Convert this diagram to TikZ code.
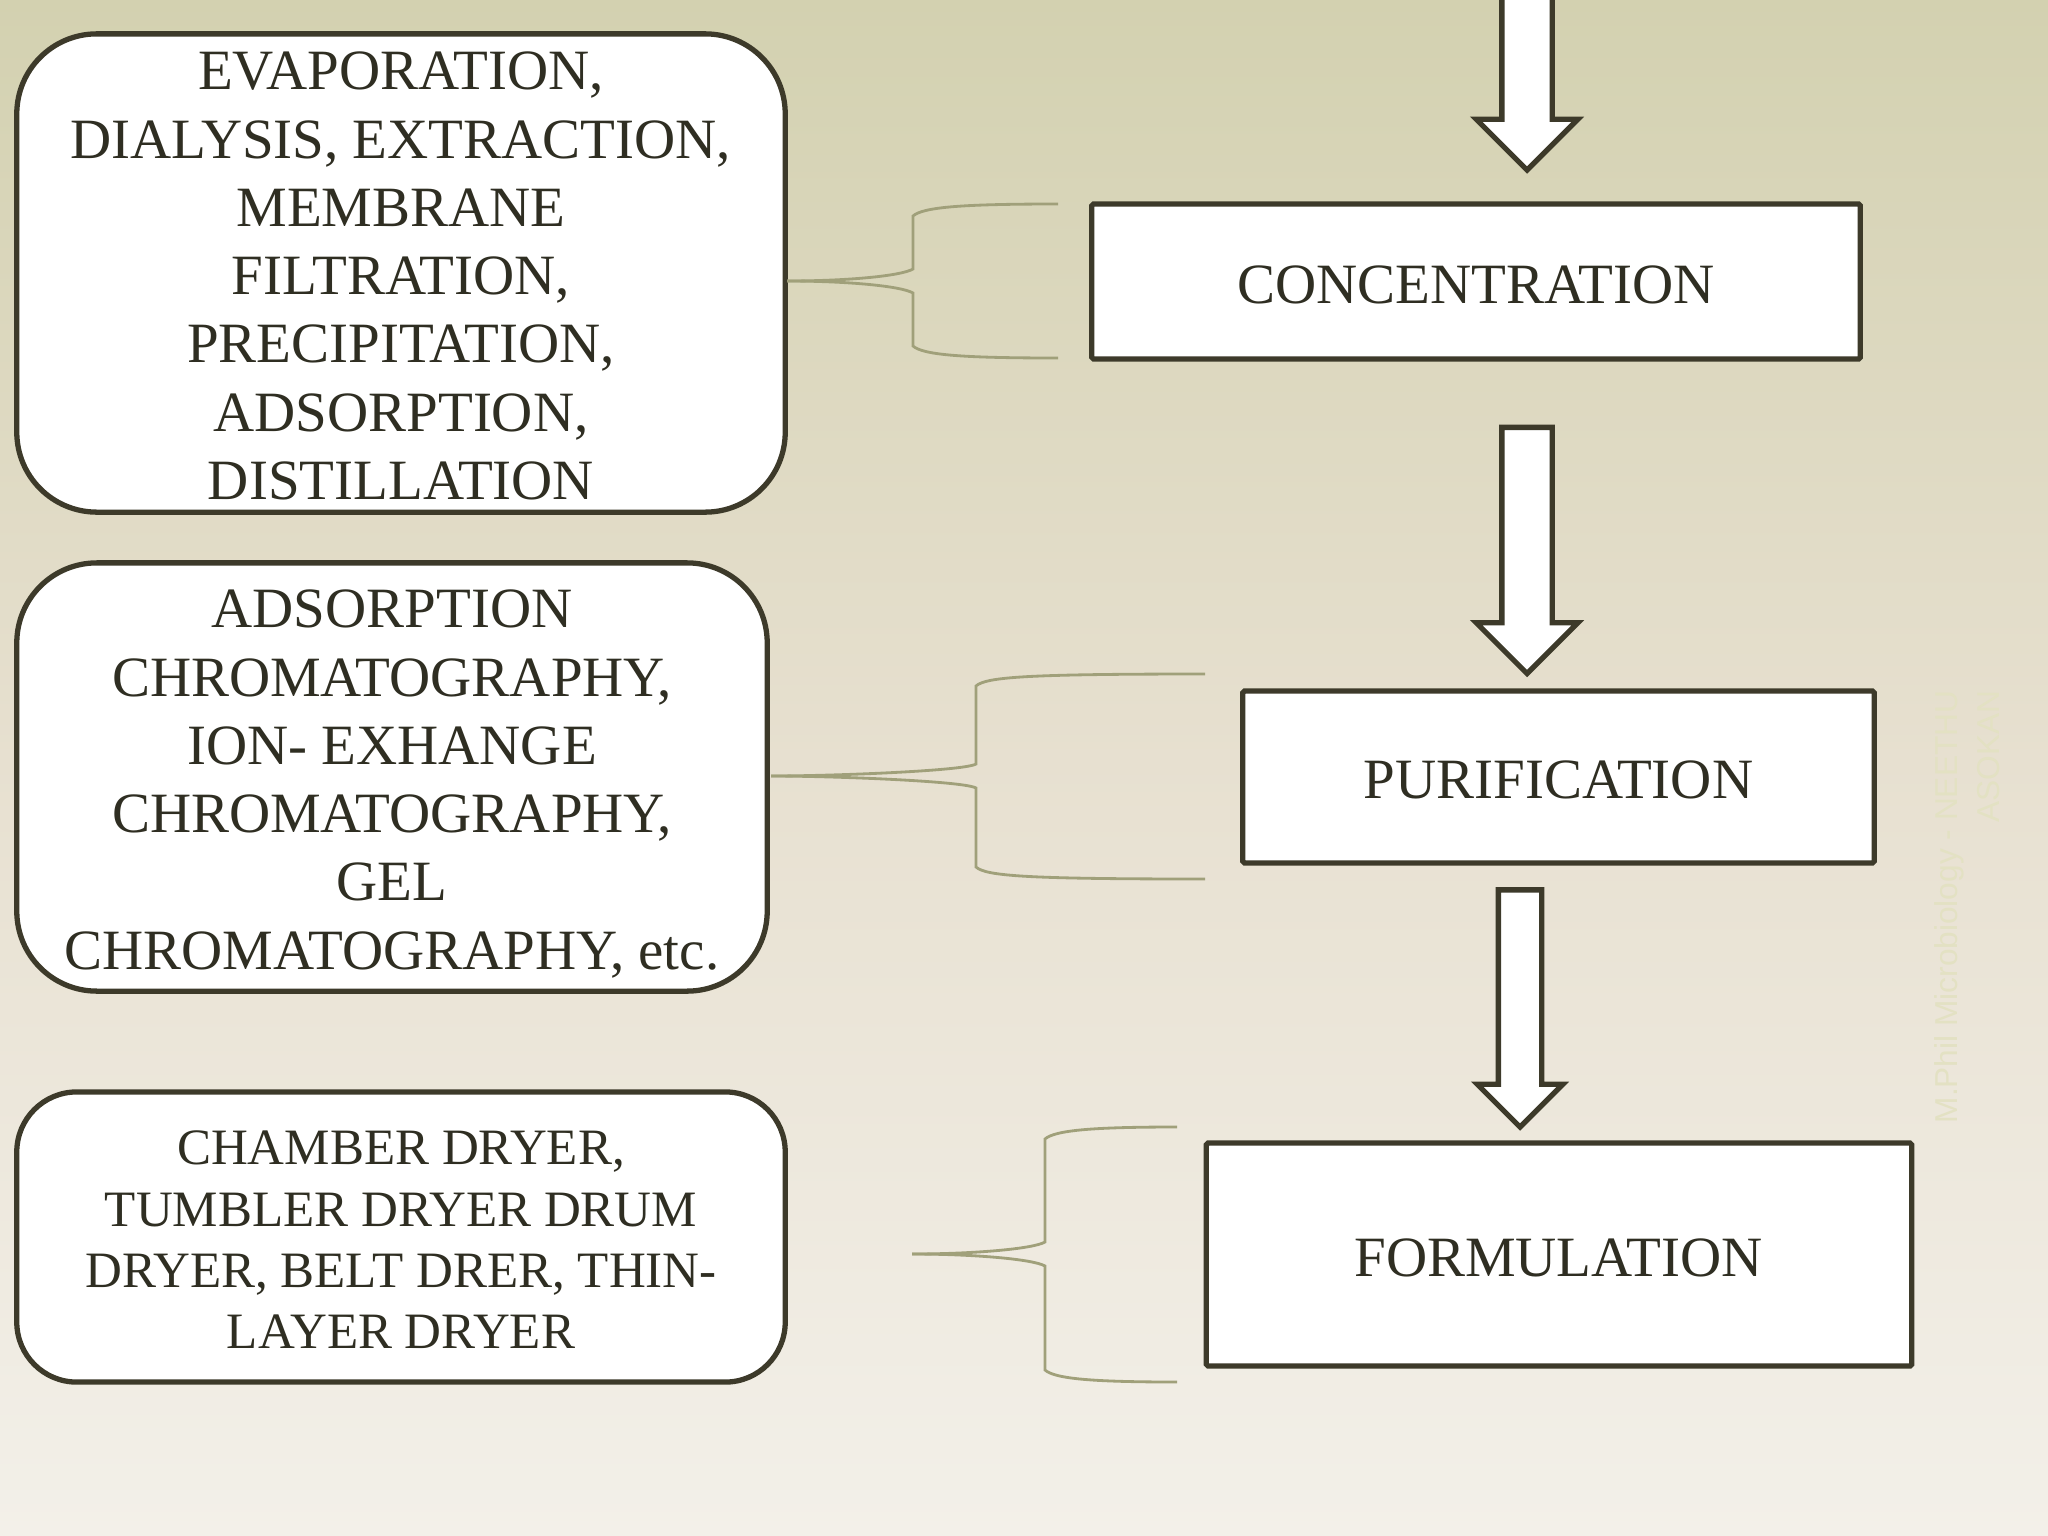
\documentclass[tikz,border=0pt]{standalone}
\usepackage{fontspec}
\setmainfont{Liberation Serif}
\newfontfamily\markfont{Liberation Sans}
\usetikzlibrary{shapes.arrows}
\definecolor{edgecol}{HTML}{3D3A2A}
\definecolor{bracecol}{HTML}{A0A07A}
\definecolor{textcol}{HTML}{2F2E22}
\definecolor{markcol}{HTML}{E3E1C3}
\definecolor{bgtop}{HTML}{D3D1B0}
\definecolor{bgmid}{HTML}{E7E0D0}
\definecolor{bgend}{HTML}{F3F0E9}
\tikzset{
  roundbox/.style={draw=edgecol,line width=1.5pt,fill=white,rounded corners=0.8cm,inner sep=0pt},
  smallbox/.style={roundbox,rounded corners=0.6cm},
  stagebox/.style={draw=edgecol,line width=1.5pt,fill=white,inner sep=0pt,rounded corners=0.5pt},
  boxtext/.style={align=center,text=textcol,inner sep=0pt,font=\fontsize{16.2}{19.4}\selectfont},
  smalltext/.style={boxtext,font=\fontsize{14.5}{17.45}\selectfont},
  blockarrow/.style={single arrow,shape border rotate=270,draw=edgecol,line width=1.5pt,
    fill=white,outer sep=0pt,anchor=tip,single arrow tip angle=90},
  branch/.style={draw=bracecol,line width=0.8pt}
}
% side brace: start, x of spine, x of ends, y top, y bottom
\newcommand{\sidebrace}[5]{
  \draw[branch] (#1) .. controls ++(60,0) and (#2-12,\braceY-5) .. (#2,\braceY-12) -- (#2,#4+12)
    .. controls (#2+10,#4+3) and (#2+50,#4) .. (#3,#4);
  \draw[branch] (#1) .. controls ++(60,0) and (#2-12,\braceY+5) .. (#2,\braceY+12) -- (#2,#5-12)
    .. controls (#2+10,#5-3) and (#2+50,#5) .. (#3,#5);
}
\begin{document}
\begin{tikzpicture}[x=0.01cm,y=-0.01cm]
  \useasboundingbox (0,0) rectangle (2048,1536);
  \clip (0,0) rectangle (2048,1536);
  \shade[top color=bgtop,bottom color=bgmid] (0,0) rectangle (2048,760);
  \shade[top color=bgmid,bottom color=bgend] (0,759) rectangle (2048,1536);
  % watermark
  \node[rotate=90,align=right,text=markcol,font=\markfont\fontsize{9}{12}\selectfont] (mark) at (1967,907)
    {M.Phil Microbiology - NEETHU\\ASOKAN};
  % method boxes
  \node[roundbox,minimum width=7.68cm,minimum height=4.78cm] (evapbox) at (401,273) {};
  \node[boxtext] (evaptext) at (401,276)
    {EVAPORATION,\\DIALYSIS, EXTRACTION,\\MEMBRANE\\FILTRATION,\\PRECIPITATION,\\ADSORPTION,\\DISTILLATION};
  \node[roundbox,minimum width=7.50cm,minimum height=4.28cm] (chromabox) at (392,777) {};
  \node[boxtext] (chromatext) at (392,784)
    {ADSORPTION\\CHROMATOGRAPHY,\\ION- EXHANGE\\CHROMATOGRAPHY,\\GEL\\CHROMATOGRAPHY, etc.};
  \node[smallbox,minimum width=7.68cm,minimum height=2.90cm] (dryerbox) at (401,1237) {};
  \node[smalltext] (dryertext) at (401,1240)
    {CHAMBER DRYER,\\TUMBLER DRYER DRUM\\DRYER, BELT DRER, THIN-\\LAYER DRYER};
  % stage boxes
  \node[stagebox,minimum width=7.68cm,minimum height=1.55cm] (concbox) at (1476,281.5) {};
  \node[boxtext] (conctext) at (1476,285) {CONCENTRATION};
  \node[stagebox,minimum width=6.31cm,minimum height=1.72cm] (purifbox) at (1558.5,777) {};
  \node[boxtext] (puriftext) at (1558.5,779.5) {PURIFICATION};
  \node[stagebox,minimum width=7.05cm,minimum height=2.23cm] (formbox) at (1559,1254.5) {};
  \node[boxtext] (formtext) at (1558.5,1258) {FORMULATION};
  % block arrows
  \node[blockarrow,inner sep=0.225cm,minimum height=1.90cm,single arrow head extend=0.255cm] (arrowone) at (1527,170) {};
  \node[blockarrow,inner sep=0.225cm,minimum height=2.46cm,single arrow head extend=0.255cm] (arrowtwo) at (1527,673.5) {};
  \node[blockarrow,inner sep=0.19cm,minimum height=2.37cm,single arrow head extend=0.21cm] (arrowthree) at (1520,1127) {};
  % braces
  \coordinate (braceone) at (787,281);
  \coordinate (bracetwo) at (771,776);
  \coordinate (bracethree) at (912,1254);
  \def\braceY{281}
  \sidebrace{braceone}{913}{1058}{204}{358}
  \def\braceY{776}
  \sidebrace{bracetwo}{976}{1205}{674}{879}
  \def\braceY{1254}
  \sidebrace{bracethree}{1045}{1177}{1127}{1382}
\end{tikzpicture}
\end{document}
